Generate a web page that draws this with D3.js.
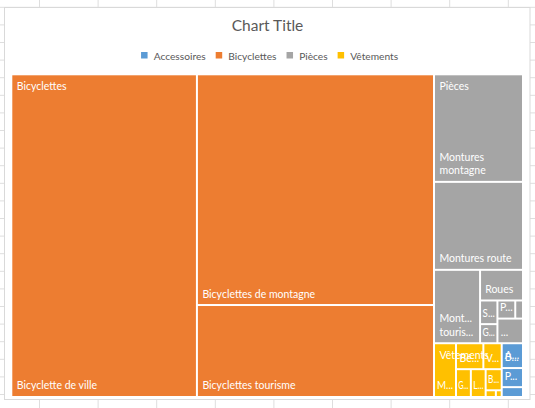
<!DOCTYPE html>
<html>
<head>
<meta charset="utf-8">
<script src="https://cdn.jsdelivr.net/npm/d3@7"></script>
<style>
  body { margin: 0; background: #fff; }
  svg { display: block; }
</style>
</head>
<body>
<svg id="treemap"></svg>
<script>
// Data (cell areas)
var groupNames = ["Bicyclettes", "Pièces", "Vêtements", "Accessoires"];
var legendNames = ["Accessoires", "Bicyclettes", "Pièces", "Vêtements"];

var bicyclettesNames = ["Bicyclette de ville", "Bicyclettes de montagne", "Bicyclettes tourisme"];
var bicyclettesValues = [59385, 54230, 21620];

var piecesNames = ["Montures montagne", "Montures route", "Montures tourisme", "Roues",
  "Selles", "Guidons", "Pédaliers", "Freins", "Jeux de direction"];
var piecesValues = [9491, 7761, 3351, 1305, 407, 329, 320, 139, 625];

var vetementsNames = ["Maillots", "Bérets", "Vestes", "Gants", "Leggings", "Bonnets", "Bandanas", "Chaussettes"];
var vetementsValues = [1172, 704, 472, 410, 408, 336, 68, 39];

var accessoiresNames = ["Bidons", "Porte-bidons", "Nettoyants"];
var accessoiresValues = [524, 403, 208];

var leafNames = [bicyclettesNames, piecesNames, vetementsNames, accessoiresNames];
var leafValues = [bicyclettesValues, piecesValues, vetementsValues, accessoiresValues];

var W = 535, H = 408;
var font = "Lato, 'Open Sans', sans-serif";
var plot = { left: 12.3, top: 75.3, right: 522, bottom: 396 };

var color = d3.scaleOrdinal()
  .domain(["Accessoires", "Bicyclettes", "Pièces", "Vêtements"])
  .range(["#5B9BD5", "#ED7D31", "#A5A5A5", "#FFC000"]);

var svg = d3.select("#treemap").attr("width", W).attr("height", H);

// spreadsheet grid behind the chart
svg.append("rect").attr("width", W).attr("height", H).attr("fill", "#fff");
svg.append("g").selectAll("line").data(d3.range(0, 10)).enter().append("line")
  .attr("x1", function (i) { return 39.5 + 58.6 * i; })
  .attr("x2", function (i) { return 39.5 + 58.6 * i; })
  .attr("y1", 0).attr("y2", H)
  .attr("stroke", "#dedede");
svg.append("g").selectAll("line").data(d3.range(0, 24)).enter().append("line")
  .attr("y1", function (i) { return 7.3 + 17.6 * i; })
  .attr("y2", function (i) { return 7.3 + 17.6 * i; })
  .attr("x1", 0).attr("x2", W)
  .attr("stroke", "#dedede");

// chart area
svg.append("rect")
  .attr("x", 4.5).attr("y", 7.5).attr("width", 525.5).attr("height", 392)
  .attr("fill", "#fff").attr("stroke", "#d9d9d9");

svg.append("text")
  .attr("x", 267.5).attr("y", 31)
  .attr("text-anchor", "middle")
  .style("font-family", font).style("font-size", "15.5px")
  .attr("fill", "#595959")
  .text("Chart Title");

// legend, centred
var legend = svg.append("g");
var lx = 0;
legendNames.forEach(function (name) {
  legend.append("rect").attr("x", lx).attr("y", 52).attr("width", 6.5).attr("height", 6.5)
    .attr("fill", color(name));
  var t = legend.append("text").attr("x", lx + 12.6).attr("y", 59.5)
    .style("font-family", font).style("font-size", "10.2px").attr("fill", "#595959")
    .text(name);
  lx += 12.6 + t.node().getComputedTextLength() + 10;
});
legend.attr("transform", "translate(" + (269.6 - (lx - 10) / 2) + ",0)");

// hierarchy
var tree = {
  name: "root",
  children: groupNames.map(function (g, i) {
    return {
      name: g,
      children: leafNames[i].map(function (n, j) { return { name: n, value: leafValues[i][j] }; })
    };
  })
};

// Excel-like squarify: rows are kept while the worst cell gets better,
// cells measured against a target of slightly taller than wide
var K = 1.25;
function worstRatio(nodes, sum, total, dx, dy, dice) {
  var thick = (dice ? dy : dx) * sum / total;
  var worst = 0;
  nodes.forEach(function (n) {
    var len = (dice ? dx : dy) * n.value / sum;
    var r = dice ? len / thick : thick / len;
    worst = Math.max(worst, K * r, 1 / (K * r));
  });
  return worst;
}
function excelTile(parent, x0, y0, x1, y1) {
  var nodes = parent.children, total = parent.value, i0 = 0;
  while (i0 < nodes.length) {
    var dx = x1 - x0, dy = y1 - y0, dice = dx < dy;
    var i1 = i0 + 1, sum = nodes[i0].value;
    var best = worstRatio(nodes.slice(i0, i1), sum, total, dx, dy, dice);
    while (i1 < nodes.length) {
      var s = sum + nodes[i1].value;
      var w = worstRatio(nodes.slice(i0, i1 + 1), s, total, dx, dy, dice);
      if (w > best) break;
      best = w; sum = s; i1++;
    }
    var row = { value: sum, children: nodes.slice(i0, i1) };
    if (dice) {
      var yy = y0 + dy * sum / total;
      d3.treemapDice(row, x0, y0, x1, yy); y0 = yy;
    } else {
      var xx = x0 + dx * sum / total;
      d3.treemapSlice(row, x0, y0, xx, y1); x0 = xx;
    }
    total -= sum; i0 = i1;
  }
}

var root = d3.hierarchy(tree).sum(function (d) { return d.value; });
d3.treemap()
  .size([plot.right - plot.left, plot.bottom - plot.top])
  .paddingInner(2)
  .tile(excelTile)(root);

var g = svg.append("g").attr("transform", "translate(" + plot.left + "," + plot.top + ")");

var leaves = g.selectAll("g.leaf").data(root.leaves()).enter().append("g").attr("class", "leaf");
leaves.append("rect")
  .attr("x", function (d) { return d.x0; })
  .attr("y", function (d) { return d.y0; })
  .attr("width", function (d) { return d.x1 - d.x0; })
  .attr("height", function (d) { return d.y1 - d.y0; })
  .attr("fill", function (d) { return color(d.parent.data.name); });

// label fitting
var FS = 10.5, LH = 13.5;
var measure = svg.append("text").style("font-family", font).style("font-size", FS + "px")
  .attr("visibility", "hidden");
function textWidth(s) { measure.text(s); return measure.node().getComputedTextLength(); }
function fitWord(word, room) {
  if (textWidth(word) <= room) return word;
  for (var k = word.length - 1; k >= 1; k--) {
    var t = word.slice(0, k) + "...";
    if (textWidth(t) <= room) return t;
  }
  return null;
}
function fitLines(name, w, h) {
  var pad = Math.min(4.5, w * 0.1), room = w - 2 * pad;
  var maxLines = Math.floor((h + 2) / LH);
  if (maxLines < 1 || w < 11) return [];
  var words = name.split(" "), lines = [], cur = "";
  words.forEach(function (word) {
    var test = cur ? cur + " " + word : word;
    if (!cur || textWidth(test) <= room) cur = test;
    else { lines.push(cur); cur = word; }
  });
  lines.push(cur);
  if (lines.length > maxLines) return ["..."];
  return lines.map(function (l) { return fitWord(l, room) || l[0] + "..."; });
}

function drawLabel(sel, lines, x, yLast, room) {
  lines.forEach(function (l, i) {
    var t = sel.append("text")
      .attr("x", x).attr("y", yLast - (lines.length - 1 - i) * LH)
      .style("font-family", font).style("font-size", FS + "px")
      .attr("fill", "#fff").text(l);
    if (t.node().getComputedTextLength() > room) {
      t.attr("textLength", room).attr("lengthAdjust", "spacingAndGlyphs");
    }
  });
}

leaves.each(function (d) {
  var w = d.x1 - d.x0, h = d.y1 - d.y0;
  var pad = Math.min(4.5, w * 0.1);
  drawLabel(d3.select(this), fitLines(d.data.name, w, h), d.x0 + pad, d.y1 - 6.5, w - 2 * pad);
});

// group labels over the cells, top left
var groups = g.selectAll("g.group").data(root.children).enter().append("g").attr("class", "group");
groups.each(function (d) {
  var w = d.x1 - d.x0, pad = Math.min(4.5, w * 0.1), room = w - 2 * pad;
  var label = fitWord(d.data.name, room) || d.data.name[0] + "...";
  drawLabel(d3.select(this), [label], d.x0 + pad, d.y0 + 14.5, room);
});
</script>
</body>
</html>
